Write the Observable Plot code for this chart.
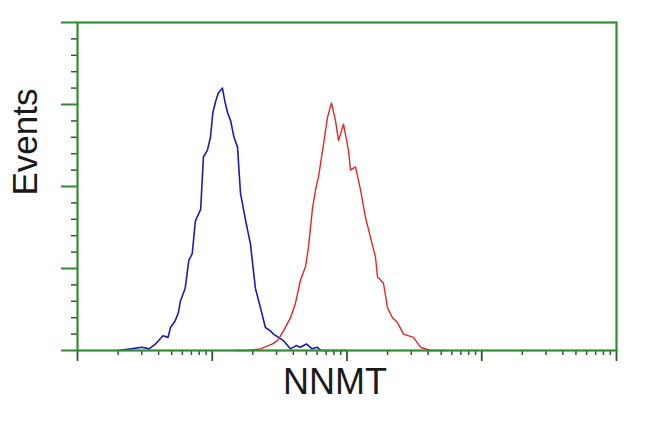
<!DOCTYPE html>
<html>
<head>
<meta charset="utf-8">
<script src="https://cdn.jsdelivr.net/npm/d3@7"></script>
<script src="https://cdn.jsdelivr.net/npm/@observablehq/plot@0.6"></script>
<style>
  html, body { margin: 0; padding: 0; background: #fff; }
</style>
</head>
<body>
<div id="chart"></div>
<script>
// Control (blue) histogram: fluorescence intensity and event counts
const controlX = [2.0, 2.5, 3.0, 3.4, 3.8, 4.3, 4.7, 4.9, 5.3, 5.6, 5.8, 6.3, 6.7, 7.1, 7.5, 8.2, 8.6, 9.2, 9.7, 10.1, 10.6, 11.1, 11.9, 12.4, 13.0, 13.7, 14.5, 15.4, 16.2, 17.7, 19.2, 20.9, 22.8, 24.8, 27, 28.5, 31, 33.8, 38, 42, 45, 50, 55, 60, 64, 100];
const controlY = [0, 1, 2, 1, 4, 9, 8, 14, 18, 23, 30, 38, 55, 59, 79, 86, 118, 122, 130, 145, 152, 157, 160, 152, 145, 140, 130, 124, 96, 79, 65, 38, 26, 14, 12, 10, 8, 6, 1, 3, 2, 4, 1, 2, 0, 0];

// NNMT-stained (red) histogram
const nnmtX = [15, 18.3, 22.8, 28.0, 30.5, 33.8, 38.1, 41.5, 45.2, 49.2, 51.8, 55.5, 58.4, 61.5, 67.0, 71.6, 76.7, 82.2, 86.5, 94.2, 102.6, 106.2, 115.6, 126.0, 137.2, 149.4, 162.7, 168.3, 186.5, 199.8, 217.6, 237.1, 262.5, 311.7, 351, 416.5, 557];
const nnmtY = [0, 0, 1, 4, 6, 12, 20, 29, 43, 51, 63, 87, 98, 106, 126, 142, 151, 140, 128, 138, 122, 110, 112, 98, 81, 69, 57, 45, 41, 26, 20, 17, 10, 8, 2, 0, 0];

// Axis ticks
const xMajorTicks = [1, 10, 100, 1000, 10000];
const xMinorTicks = [1, 10, 100, 1000].flatMap(d => [2, 3, 4, 5, 6, 7, 8, 9].map(k => k * d));
const yMajorTicks = [0, 50, 100, 150, 200];
const yMinorTicks = [10, 20, 30, 40, 60, 70, 80, 90, 110, 120, 130, 140, 160, 170, 180, 190];

const xLabel = "NNMT";
const yLabel = "Events";

const control = controlX.map((x, i) => ({x, y: controlY[i]}));
const nnmt = nnmtX.map((x, i) => ({x, y: nnmtY[i]}));

const green = "#2f8f2f";
const tickColor = "#2d5a2d";

const chart = Plot.plot({
  width: 650,
  height: 432,
  marginLeft: 77,
  marginRight: 34,
  marginTop: 22,
  marginBottom: 82,
  style: {background: "#fff", fontFamily: "'Liberation Sans', Arial, sans-serif"},
  x: {type: "log", domain: [1, 10000], axis: null},
  y: {domain: [0, 200], axis: null},
  marks: [
    Plot.axisX(xMinorTicks, {tickSize: 5, tickFormat: () => "", label: null, stroke: tickColor, strokeWidth: 1.5}),
    Plot.axisX(xMajorTicks, {tickSize: 11, tickFormat: () => "", label: null, stroke: tickColor, strokeWidth: 1.8}),
    Plot.axisY(yMinorTicks, {tickSize: 6, tickFormat: () => "", label: null, stroke: tickColor, strokeWidth: 1.5}),
    Plot.axisY(yMajorTicks, {tickSize: 16, tickFormat: () => "", label: null, stroke: green, strokeWidth: 2}),
    Plot.line(control, {x: "x", y: "y", stroke: "#1c1cb0", strokeWidth: 1.6}),
    Plot.line(nnmt, {x: "x", y: "y", stroke: "#e02828", strokeWidth: 1.4}),
    Plot.frame({stroke: green, strokeWidth: 2.2}),
    Plot.text([yLabel], {text: d => d, frameAnchor: "left", dx: -52, dy: 9, rotate: -90, fontSize: 35, fill: "#1a1a1a"}),
    Plot.text([xLabel], {text: d => d, frameAnchor: "bottom", dx: -12, dy: 43, fontSize: 36, fill: "#1a1a1a"})
  ]
});
document.getElementById("chart").appendChild(chart);
</script>
</body>
</html>
